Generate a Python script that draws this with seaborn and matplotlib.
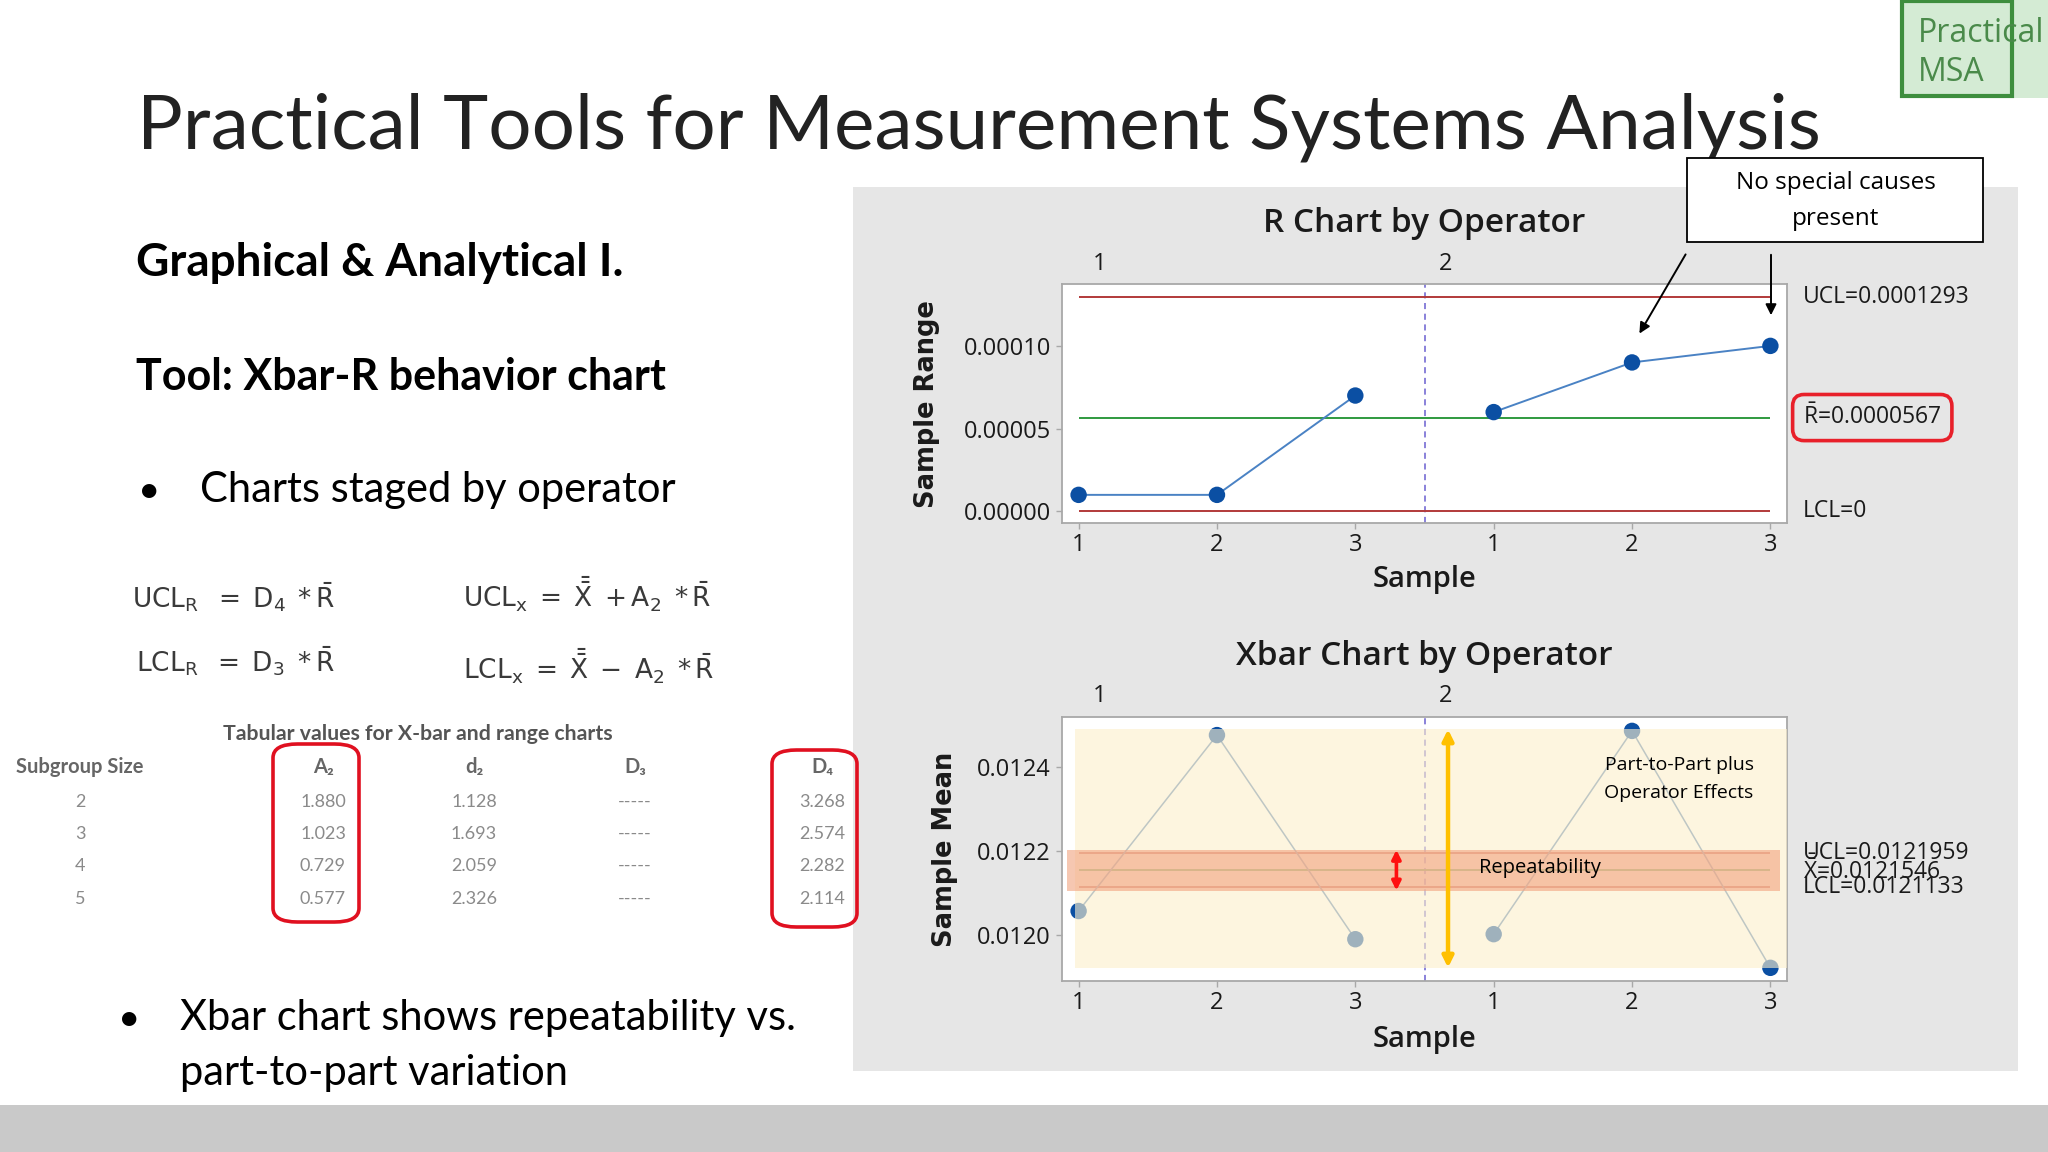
import numpy as np
import pandas as pd
import matplotlib
matplotlib.use("Agg")
import matplotlib.pyplot as plt
import matplotlib.transforms as mtransforms
from matplotlib.patches import Rectangle, FancyBboxPatch
import seaborn as sns

# ---------------- data ----------------
operators = ["1", "2"]
sample_labels = ["1", "2", "3", "1", "2", "3"]
operator_of_sample = [1, 1, 1, 2, 2, 2]
sample_range = [0.00001, 0.00001, 0.00007, 0.00006, 0.00009, 0.00010]
sample_mean = [0.012057, 0.012475, 0.011990, 0.012002, 0.012485, 0.011922]
r_ucl, r_bar, r_lcl = 0.0001293, 0.0000567, 0.0
x_ucl, x_bar, x_lcl = 0.0121959, 0.0121546, 0.0121133
r_ticks = [0.00000, 0.00005, 0.00010]
r_tick_labels = ["0.00000", "0.00005", "0.00010"]
x_ticks = [0.0120, 0.0122, 0.0124]
x_tick_labels = ["0.0120", "0.0122", "0.0124"]
# annotation extents on the Xbar chart (value axis)
p2p_band = (0.0119224, 0.0124887)
repeat_band = (0.0121057, 0.0122024)

table_sizes = ["2", "3", "4", "5"]
table_A2 = ["1.880", "1.023", "0.729", "0.577"]
table_d2 = ["1.128", "1.693", "2.059", "2.326"]
table_D3 = ["-----", "-----", "-----", "-----"]
table_D4 = ["3.268", "2.574", "2.282", "2.114"]

# ---------------- setup ----------------
sns.set_theme(style="white")
plt.rcParams["font.family"] = ["Open Sans", "DejaVu Sans"]
plt.rcParams["mathtext.fontset"] = "custom"
plt.rcParams["mathtext.rm"] = "Open Sans"
plt.rcParams["mathtext.it"] = "Open Sans:italic"
plt.rcParams["mathtext.bf"] = "Open Sans:bold"
plt.rcParams["mathtext.sf"] = "DejaVu Sans"

W, H = 2048, 1152
fig = plt.figure(figsize=(W / 100, H / 100), dpi=100)
fig.patch.set_facecolor("white")


def fx(x):
    return x / W


def fy(y):
    return 1 - y / H


def frect(x0, y0, x1, y1, **kw):
    r = Rectangle((fx(x0), fy(y1)), (x1 - x0) / W, (y1 - y0) / H,
                  transform=fig.transFigure, **kw)
    fig.add_artist(r)
    return r


# chart panel & bottom bar
frect(853, 187, 2018, 1071, facecolor="#e6e6e6", edgecolor="none", zorder=0)
frect(0, 1105, W, H, facecolor="#c9c9c9", edgecolor="none", zorder=0)

SLIDE = ["Lato", "DejaVu Sans"]

# title
fig.text(fx(137), fy(148), "Practical Tools for Measurement Systems Analysis",
         family=SLIDE, fontweight="normal", fontsize=55, color="#222222",
         ha="left", va="baseline")

# logo
frect(1902, 0, W, 98, facecolor="#d4ebd4", edgecolor="none", zorder=1)
frect(1902, 1, 2012, 96, facecolor="none", edgecolor="#3e8e3e", lw=3, zorder=2)
fig.text(fx(1918), fy(42), "Practical", fontsize=23, color="#4a8a4a", zorder=3,
         ha="left", va="baseline")
fig.text(fx(1918), fy(81), "MSA", fontsize=23, color="#4a8a4a", zorder=3,
         ha="left", va="baseline")

# left text
fig.text(fx(136), fy(276), "Graphical & Analytical I.", family=SLIDE, fontweight="bold",
         fontsize=33, color="black", ha="left", va="baseline")
fig.text(fx(136), fy(390), "Tool: Xbar-R behavior chart", family=SLIDE, fontweight="bold",
         fontsize=31, color="black", ha="left", va="baseline")
fig.text(fx(138), fy(502), "\u2022", family=SLIDE, fontsize=28, color="black",
         ha="left", va="baseline")
fig.text(fx(200), fy(502), "Charts staged by operator", family=SLIDE, fontsize=30,
         color="black", ha="left", va="baseline")
fig.text(fx(118), fy(1030), "\u2022", family=SLIDE, fontsize=28, color="black",
         ha="left", va="baseline")
fig.text(fx(180), fy(1030), "Xbar chart shows repeatability vs.", family=SLIDE, fontsize=30,
         color="black", ha="left", va="baseline")
fig.text(fx(180), fy(1085), "part-to-part variation", family=SLIDE, fontsize=30,
         color="black", ha="left", va="baseline")

# formulas
fcol = "#3a3a3a"
fig.text(fx(132), fy(607), r"$\mathsf{UCL_R\ \ =\ D_4\ *\bar{R}}$", fontsize=19, color=fcol,
         ha="left", va="baseline")
fig.text(fx(136), fy(671), r"$\mathsf{LCL_R\ \ =\ D_3\ *\bar{R}}$", fontsize=19, color=fcol,
         ha="left", va="baseline")
fig.text(fx(463), fy(607), r"$\mathsf{UCL_x\ =\ \bar{\bar{X}}\ +A_2\ *\bar{R}}$", fontsize=19,
         color=fcol, ha="left", va="baseline")
fig.text(fx(463), fy(680), r"$\mathsf{LCL_x\ =\ \bar{\bar{X}}\ -\ A_2\ *\bar{R}}$", fontsize=19,
         color=fcol, ha="left", va="baseline")

# table
fig.text(fx(418), fy(734), "Tabular values for X-bar and range charts", family=SLIDE,
         fontweight="bold", fontsize=15.3, color="#555555", ha="center", va="center")
col_x = [80, 323, 474, 635, 822]
headers = ["Subgroup Size", "A\u2082", "d\u2082", "D\u2083", "D\u2084"]
for cx, hdr in zip(col_x, headers):
    fig.text(fx(cx), fy(767), hdr, family=SLIDE, fontweight="bold", fontsize=14.5,
             color="#666666", ha="center", va="center")
row_y = [802, 834, 866, 899]
for ry, a, b, c, d, e in zip(row_y, table_sizes, table_A2, table_d2, table_D3, table_D4):
    for cx, val in zip(col_x, [a, b, c, d, e]):
        fig.text(fx(cx), fy(ry), val, family=SLIDE, fontsize=13, color="#8a8a8a",
                 ha="center", va="center")
for (x0, y0, x1, y1) in [(273, 744, 359, 922), (772, 750, 857, 927)]:
    fig.add_artist(FancyBboxPatch((fx(x0), fy(y1)), (x1 - x0) / W, (y1 - y0) / H,
                                  boxstyle="round,pad=0,rounding_size=0.012",
                                  transform=fig.transFigure, facecolor="none",
                                  edgecolor="#e01020", lw=2.6, zorder=5))

# ---------------- charts ----------------
idx = np.arange(len(sample_labels))
df = pd.DataFrame({"idx": idx, "range": sample_range, "mean": sample_mean,
                   "operator": operator_of_sample})
op_starts = [idx[np.array(operator_of_sample) == int(o)][0] for o in operators]
divider = (op_starts[1] - 1 + op_starts[1]) / 2
op_label_x = [op_starts[0] + 0.15, divider + 0.15]

axR = fig.add_axes([fx(1062), fy(523.5), (1787 - 1062) / W, (523.5 - 284.3) / H])
axX = fig.add_axes([fx(1062), fy(981), (1787 - 1062) / W, (981 - 717.3) / H])

for ax in (axR, axX):
    ax.set_facecolor("white")
    for s in ax.spines.values():
        s.set_color("#a8a8a8")
        s.set_linewidth(1.3)
    ax.set_xlim(-0.12, 5.12)
    ax.set_xticks(idx)
    ax.set_xticklabels(sample_labels)
    ax.tick_params(axis="both", which="both", length=4, width=1, color="#a8a8a8",
                   labelsize=17, pad=4, bottom=True, left=True, labelcolor="#1a1a1a")
    ax.tick_params(axis="x", pad=3)
    ax.axvline(divider, color="#6a5fd0", lw=1.1, ls=(0, (4, 3)), zorder=1)
    for o, lx in zip(operators, op_label_x):
        ax.text(lx, 1.035, o, transform=mtransforms.blended_transform_factory(
            ax.transData, ax.transAxes), fontsize=17, color="#1a1a1a", ha="center", va="bottom")
    ax.set_xlabel("Sample", fontsize=21, fontweight="semibold", color="#1a1a1a", labelpad=6)

# R chart
axR.set_ylim(-0.0000073, 0.0001372)
axR.set_yticks(r_ticks)
axR.set_yticklabels(r_tick_labels)
axR.hlines([r_ucl, r_lcl], 0, 5, color="#b23a3a", lw=1.4, zorder=2)
axR.hlines([r_bar], 0, 5, color="#2f9a3f", lw=1.4, zorder=2)
sns.lineplot(data=df, x="idx", y="range", units="operator", estimator=None,
             color="#4a82c4", lw=1.4, ax=axR, zorder=3, legend=False)
sns.scatterplot(data=df, x="idx", y="range", color="#0b4fa3", s=140, edgecolor="none",
                ax=axR, zorder=4, legend=False)
axR.set_ylabel("Sample Range", family="DejaVu Sans", fontweight="bold", fontsize=18.5,
               color="#1a1a1a")
axR.yaxis.set_label_coords(-0.168, 0.5)
axR.xaxis.set_label_coords(0.5, -0.172)
axR.set_title("R Chart by Operator", fontsize=24, fontweight="semibold", color="#1a1a1a",
              pad=38)
tR = mtransforms.blended_transform_factory(axR.transAxes, axR.transData)
axR.text(1.022, r_ucl, "UCL=0.0001293", transform=tR, fontsize=16.5, color="#1a1a1a",
         va="center", ha="left")
axR.text(1.022, r_lcl, "LCL=0", transform=tR, fontsize=16.5, color="#1a1a1a",
         va="center", ha="left")
axR.text(1.022, r_bar, r"$\bar{\mathrm{R}}$=0.0000567", transform=tR, fontsize=16.5,
         color="#1a1a1a", va="center", ha="left",
         bbox=dict(boxstyle="round,pad=0.45,rounding_size=0.5", fc="none", ec="#e8202a", lw=2.6))

# callout
frect(1687, 158, 1983, 242, facecolor="white", edgecolor="black", lw=1.3, zorder=6)
fig.text(fx(1836), fy(201), "No special causes\npresent", fontsize=17.5, color="black",
         ha="center", va="center", linespacing=1.65, zorder=7)
for (x0, y0, x1, y1) in [(1687, 252, 1638, 336), (1771, 252, 1771, 318)]:
    axR.annotate("", xy=(x1, H - y1), xycoords="figure pixels", xytext=(x0, H - y0),
                 textcoords="figure pixels", annotation_clip=False,
                 arrowprops=dict(arrowstyle="-|>", color="black", lw=1.4, mutation_scale=16))

# Xbar chart
axX.set_ylim(0.0118907, 0.0125173)
axX.set_yticks(x_ticks)
axX.set_yticklabels(x_tick_labels)
axX.hlines([x_ucl, x_lcl], 0, 5, color="#b23a3a", lw=1.4, zorder=2)
axX.hlines([x_bar], 0, 5, color="#2f9a3f", lw=1.4, zorder=2)
sns.lineplot(data=df, x="idx", y="mean", units="operator", estimator=None,
             color="#5b86b8", lw=1.1, ax=axX, zorder=3, legend=False)
sns.scatterplot(data=df, x="idx", y="mean", color="#0b4fa3", s=140, edgecolor="none",
                ax=axX, zorder=4, legend=False)
axX.add_patch(Rectangle((-0.027, p2p_band[0]), 5.2, p2p_band[1] - p2p_band[0],
                        facecolor="#fcefcc", alpha=0.62, edgecolor="none", zorder=5))
axX.add_patch(Rectangle((-0.082, repeat_band[0]), 5.148, repeat_band[1] - repeat_band[0],
                        facecolor="#f2a582", alpha=0.62, edgecolor="none", zorder=6))
axX.annotate("", xy=(2.297, repeat_band[1]), xytext=(2.297, repeat_band[0]),
             arrowprops=dict(arrowstyle="<|-|>", color="#ff1010", lw=2.6, mutation_scale=13,
                             shrinkA=0, shrinkB=0), zorder=7)
axX.annotate("", xy=(2.67, p2p_band[1]), xytext=(2.67, p2p_band[0]),
             arrowprops=dict(arrowstyle="<|-|>", color="#ffc000", lw=3.2, mutation_scale=16,
                             shrinkA=0, shrinkB=0), zorder=7)
axX.text(2.896, 0.0121587, "Repeatability", fontsize=14.5, color="black", ha="left",
         va="center", zorder=8)
axX.text(4.34, 0.0123707, "Part-to-Part plus\nOperator Effects", fontsize=14,
         color="black", ha="center", va="center", linespacing=1.7, zorder=8)
axX.set_ylabel("Sample Mean", family="DejaVu Sans", fontweight="bold", fontsize=18.5,
               color="#1a1a1a")
axX.yaxis.set_label_coords(-0.143, 0.5)
axX.xaxis.set_label_coords(0.5, -0.165)
axX.set_title("Xbar Chart by Operator", fontsize=24, fontweight="semibold", color="#1a1a1a",
              pad=38)
tX = mtransforms.blended_transform_factory(axX.transAxes, axX.transData)
axX.text(1.022, x_ucl, "UCL=0.0121959", transform=tX, fontsize=16.5, color="#1a1a1a",
         va="center", ha="left")
axX.text(1.022, x_bar, r"$\bar{\bar{\mathrm{X}}}$=0.0121546", transform=tX, fontsize=16.5,
         color="#1a1a1a", va="center", ha="left")
axX.text(1.022, x_lcl, "LCL=0.0121133", transform=tX, fontsize=16.5, color="#1a1a1a",
         va="center", ha="left")

fig.savefig("out.png", dpi=100)
